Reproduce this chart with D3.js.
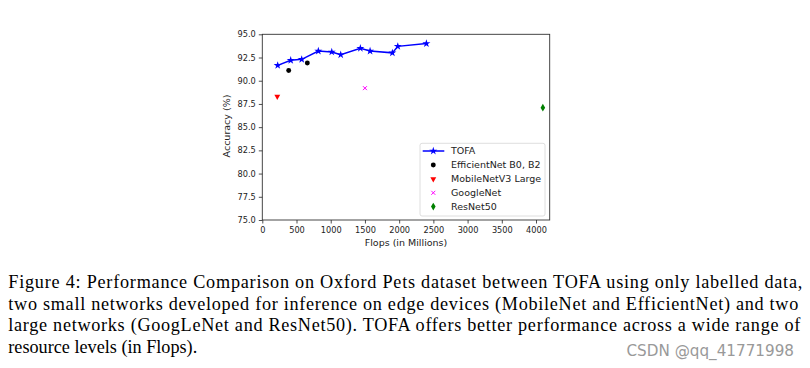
<!DOCTYPE html>
<html>
<head>
<meta charset="utf-8">
<script src="https://cdn.jsdelivr.net/npm/d3@7"></script>
<style>
  body { margin: 0; background: #fff; }
  svg { display: block; }
</style>
</head>
<body>
<svg width="810" height="368"></svg>
<script>
// values
var tofaFlops = [225, 415, 576, 819, 1015, 1146, 1433, 1575, 1901, 1980, 2398];
var tofaAcc = [91.65, 92.2, 92.3, 93.2, 93.1, 92.8, 93.5, 93.2, 93.0, 93.7, 94.0];
var effFlops = [386, 658];
var effAcc = [91.1, 91.9];
var mobileFlops = [219];
var mobileAcc = [88.3];
var googleFlops = [1500];
var googleAcc = [89.2];
var resnetFlops = [4100];
var resnetAcc = [87.1];
var xTicks = [0, 500, 1000, 1500, 2000, 2500, 3000, 3500, 4000];
var yTicks = [75, 77.5, 80, 82.5, 85, 87.5, 90, 92.5, 95];
var legendNames = ["TOFA", "EfficientNet B0, B2", "MobileNetV3 Large", "GoogleNet", "ResNet50"];
var captionLines = [
  "Figure 4: Performance Comparison on Oxford Pets dataset between TOFA using only labelled data,",
  "two small networks developed for inference on edge devices (MobileNet and EfficientNet) and two",
  "large networks (GoogLeNet and ResNet50). TOFA offers better performance across a wide range of",
  "resource levels (in Flops)."
];

var svg = d3.select("svg");
var plotL = 262.3, plotR = 549.7, plotT = 34.3, plotB = 220;

var x = d3.scaleLinear().domain([0, 4200]).range([plotL, plotR]);
var y = d3.scaleLinear().domain([75, 95]).range([plotB, plotT]);

var font = "DejaVu Sans, sans-serif";

// frame
svg.append("rect")
  .attr("x", plotL).attr("y", plotT)
  .attr("width", plotR - plotL).attr("height", plotB - plotT)
  .attr("fill", "none").attr("stroke", "#333").attr("stroke-width", 0.9);

var xAxis = svg.append("g")
  .attr("transform", "translate(0," + plotB + ")")
  .call(d3.axisBottom(x).tickValues(xTicks).tickSize(3.5).tickPadding(4).tickFormat(d3.format("d")));
var yAxis = svg.append("g")
  .attr("transform", "translate(" + plotL + ",0)")
  .call(d3.axisLeft(y).tickValues(yTicks).tickSize(3.5).tickPadding(3).tickFormat(d3.format(".1f")));

[xAxis, yAxis].forEach(function(a) {
  a.select(".domain").remove();
  a.selectAll("line").attr("stroke", "#222").attr("stroke-width", 0.8);
  a.selectAll("text").attr("font-family", font).attr("font-size", 8.2).attr("fill", "#222");
});

svg.append("text")
  .attr("x", (plotL + plotR) / 2).attr("y", 246)
  .attr("text-anchor", "middle")
  .attr("font-family", font).attr("font-size", 9.5).attr("fill", "#222")
  .text("Flops (in Millions)");

svg.append("text")
  .attr("transform", "translate(230,126) rotate(-90)")
  .attr("text-anchor", "middle")
  .attr("font-family", font).attr("font-size", 9.5).attr("fill", "#222")
  .text("Accuracy (%)");

// TOFA line
var tofa = tofaFlops.map(function(f, i) { return [f, tofaAcc[i]]; });
svg.append("path")
  .datum(tofa)
  .attr("fill", "none").attr("stroke", "#0000ff").attr("stroke-width", 1.5)
  .attr("d", d3.line().x(function(d) { return x(d[0]); }).y(function(d) { return y(d[1]); }));

var star = d3.symbol().type(d3.symbolStar).size(20);
var circle = d3.symbol().type(d3.symbolCircle).size(19);
var tri = d3.symbol().type(d3.symbolTriangle).size(15);
var cross = d3.symbol().type(d3.symbolX).size(12);
var diamond = function(w, h) {
  return "M0," + (-h) + "L" + w + ",0L0," + h + "L" + (-w) + ",0Z";
};

svg.selectAll(".tofa").data(tofa).enter().append("path")
  .attr("transform", function(d) { return "translate(" + x(d[0]) + "," + y(d[1]) + ")"; })
  .attr("d", star).attr("fill", "#0000ff");

svg.selectAll(".eff").data(effFlops).enter().append("path")
  .attr("transform", function(d, i) { return "translate(" + x(d) + "," + y(effAcc[i]) + ")"; })
  .attr("d", circle).attr("fill", "#000");

svg.selectAll(".mob").data(mobileFlops).enter().append("path")
  .attr("transform", function(d, i) { return "translate(" + x(d) + "," + y(mobileAcc[i]) + ") rotate(180)"; })
  .attr("d", tri).attr("fill", "#ff0000");

svg.selectAll(".goo").data(googleFlops).enter().append("path")
  .attr("transform", function(d, i) { return "translate(" + x(d) + "," + y(googleAcc[i]) + ")"; })
  .attr("d", cross).attr("fill", "none").attr("stroke", "#ff00ff").attr("stroke-width", 1);

svg.selectAll(".res").data(resnetFlops).enter().append("path")
  .attr("transform", function(d, i) { return "translate(" + x(d) + "," + y(resnetAcc[i]) + ")"; })
  .attr("d", diamond(2.3, 3.9)).attr("fill", "#008000");

// legend
var lg = svg.append("g");
lg.append("rect")
  .attr("x", 420).attr("y", 143.3).attr("width", 125).attr("height", 72.7)
  .attr("rx", 2).attr("fill", "#fff").attr("stroke", "#d6d6d6").attr("stroke-width", 0.8);

var rowY = [151, 165, 179, 192.8, 206.6];
var mx = 433.3;
lg.append("line").attr("x1", 422.7).attr("x2", 444.3).attr("y1", rowY[0]).attr("y2", rowY[0])
  .attr("stroke", "#0000ff").attr("stroke-width", 1.5);
lg.append("path").attr("transform", "translate(" + mx + "," + rowY[0] + ")").attr("d", star).attr("fill", "#0000ff");
lg.append("path").attr("transform", "translate(" + mx + "," + rowY[1] + ")").attr("d", circle).attr("fill", "#000");
lg.append("path").attr("transform", "translate(" + mx + "," + rowY[2] + ") rotate(180)").attr("d", tri).attr("fill", "#ff0000");
lg.append("path").attr("transform", "translate(" + mx + "," + rowY[3] + ")").attr("d", cross)
  .attr("fill", "none").attr("stroke", "#ff00ff").attr("stroke-width", 1);
lg.append("path").attr("transform", "translate(" + mx + "," + rowY[4] + ")").attr("d", diamond(2.3, 3.9)).attr("fill", "#008000");

lg.selectAll(".lt").data(legendNames).enter().append("text")
  .attr("x", 451).attr("y", function(d, i) { return rowY[i]; })
  .attr("dy", "0.35em")
  .attr("font-family", font).attr("font-size", 9.5).attr("fill", "#222")
  .text(function(d) { return d; });

// caption
var capY = [288, 309.7, 331.4, 353];
svg.selectAll(".cap").data(captionLines).enter().append("text")
  .attr("x", 8.3).attr("y", function(d, i) { return capY[i]; })
  .attr("font-family", "Liberation Serif, Times New Roman, serif").attr("font-size", 18.2).attr("fill", "#000")
  .each(function(d, i) {
    if (i < 3) d3.select(this).attr("textLength", [794, 790, 792][i]).attr("lengthAdjust", "spacing");
  })
  .text(function(d) { return d; });

svg.append("text")
  .attr("x", 794).attr("y", 356)
  .attr("text-anchor", "end")
  .attr("font-family", "DejaVu Sans, sans-serif").attr("font-size", 15.2).attr("fill", "#999")
  .text("CSDN @qq_41771998");
</script>
</body>
</html>
